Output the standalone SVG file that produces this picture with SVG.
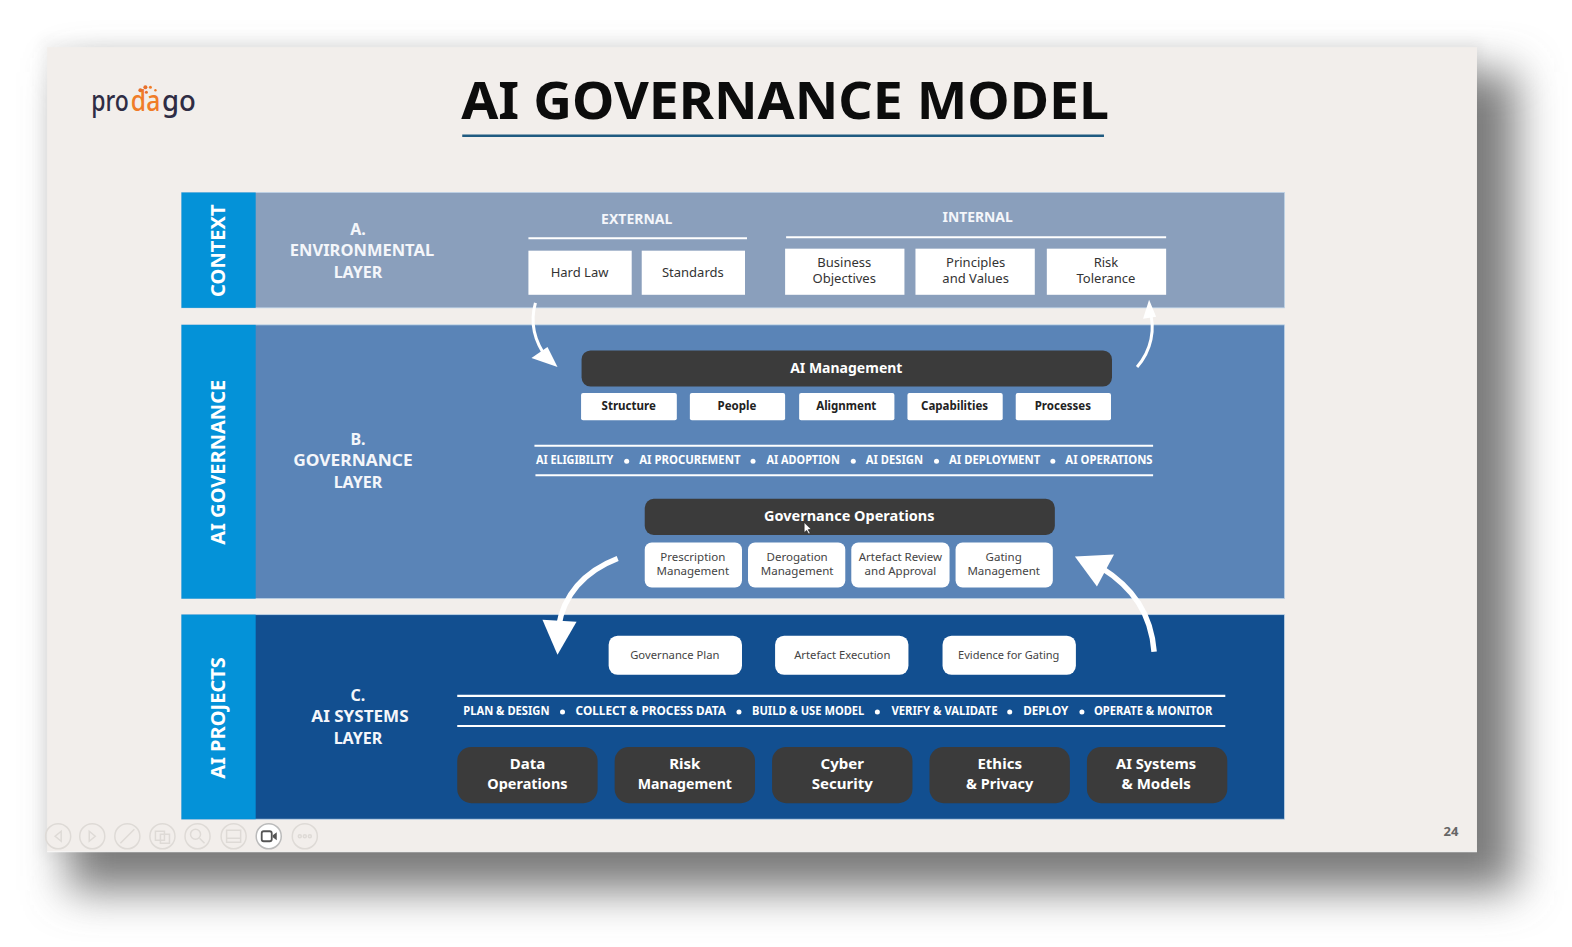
<svg xmlns="http://www.w3.org/2000/svg" width="1572" height="947" viewBox="0 0 1572 947">
<style>
text{font-family:"Noto Sans","Open Sans","Liberation Sans",sans-serif;text-anchor:middle}
.side{fill:#0492d8}
.rim{stroke:#bcd2e6;stroke-width:.8}
.tag{fill:#fff;font-size:20px;font-weight:700}
.layer{fill:#f4f6fa;font-size:16px;font-weight:700}
.box{fill:#fff}
.t1{fill:#333;font-size:13px}
.t1b{fill:#222;font-size:11.5px;font-weight:700}
.t2{fill:#444;font-size:11.5px}
.dark{fill:#3b3b3b}
.dt{fill:#fff;font-size:14.5px;font-weight:700}
.dt2{fill:#fff;font-size:15px;font-weight:700}
.band{fill:#fff;font-size:11.5px;font-weight:700}
.hd{fill:#f4f6fa;font-size:13.5px;font-weight:700}
.rule{stroke:#fff;stroke-width:2;fill:none}
.dot{fill:#fff}
.arc{stroke:#fff;fill:none;stroke-linecap:butt}
.head{fill:#fff}
.ic{fill:none;stroke:#dedad6;stroke-width:1.5}
.logo{font-size:28px;font-weight:500;text-anchor:start}
</style>
<defs>
<filter id="sh" x="-10%" y="-15%" width="120%" height="130%"><feGaussianBlur stdDeviation="22"/></filter>
<filter id="sh2" x="-10%" y="-10%" width="120%" height="125%"><feGaussianBlur stdDeviation="7"/></filter>
</defs>
<rect width="1572" height="947" fill="#fff"/>
<g transform="scale(1.0027)">
<rect x="42" y="40" width="1436" height="815" fill="#000" opacity=".05" filter="url(#sh2)"/>
<rect x="68" y="72" width="1444" height="816" fill="#7a7a7a" filter="url(#sh)"/>
<rect id="slide" x="47" y="47" width="1426" height="802.500" fill="#f2eeeb"/>
<line x1="47" y1="849.500" x2="1473" y2="849.500" stroke="#fff" stroke-width=".8"/>
<g id="logo">
<text class="logo" transform="translate(91,111) scale(.82,1)" fill="#2f2c44">pro</text>
<text class="logo" transform="translate(130.500,111) scale(.88,1)" fill="#f07c28">da</text>
<text class="logo" transform="translate(161.500,111) scale(.98,1)" fill="#2f2c44">go</text>
<circle cx="140" cy="90" r="2" fill="#e8702a"/><circle cx="145" cy="87" r="2" fill="#e8702a"/><circle cx="150" cy="87" r="1.500" fill="#f07c28"/><circle cx="155" cy="90" r="1.200" fill="#f07c28"/><circle cx="146" cy="92" r="1.500" fill="#e8702a"/>
</g>
<g id="title">
<text x="783" y="119" font-size="52" font-weight="700" fill="#0c0c0c" textLength="646" lengthAdjust="spacingAndGlyphs">AI GOVERNANCE MODEL</text>
<line x1="461" y1="135.500" x2="1101" y2="135.500" stroke="#1f5a80" stroke-width="2.500"/>
</g>
<g id="layer-a">
<rect class="rim" x="181" y="192" width="1100" height="115" fill="#8a9fbc"/>
<rect class="side" x="181" y="192" width="74" height="115"/>
<text class="tag" transform="translate(224.500,250) rotate(-90)">CONTEXT</text>
<text class="layer" x="357" y="234">A.</text>
<text class="layer" x="361" y="255" textLength="144" lengthAdjust="spacingAndGlyphs">ENVIRONMENTAL</text>
<text class="layer" x="357" y="277">LAYER</text>
<text class="hd" x="635" y="223" textLength="71" lengthAdjust="spacingAndGlyphs">EXTERNAL</text>
<text class="hd" x="975" y="221" textLength="70" lengthAdjust="spacingAndGlyphs">INTERNAL</text>
<line class="rule" x1="527" y1="237.500" x2="745" y2="237.500"/>
<line class="rule" x1="784" y1="236.500" x2="1163" y2="236.500"/>
</g>
<g id="hard-law"><rect class="box" x="527" y="250" width="103" height="44"/><text class="t1" x="578" y="276.500">Hard Law</text></g>
<g id="standards"><rect class="box" x="640" y="250" width="103" height="44"/><text class="t1" x="691" y="276.500">Standards</text></g>
<g id="business-objectives"><rect class="box" x="783" y="248" width="119" height="46"/><text class="t1" x="842" y="266.500">Business</text><text class="t1" x="842" y="282.500">Objectives</text></g>
<g id="principles"><rect class="box" x="913" y="248" width="119" height="46"/><text class="t1" x="973" y="266.500">Principles</text><text class="t1" x="973" y="282.500">and Values</text></g>
<g id="risk-tolerance"><rect class="box" x="1044" y="248" width="119" height="46"/><text class="t1" x="1103" y="266.500">Risk</text><text class="t1" x="1103" y="282.500">Tolerance</text></g>
<g id="layer-b">
<rect class="rim" x="181" y="324" width="1100" height="273" fill="#5a84b7"/>
<rect class="side" x="181" y="324" width="74" height="273"/>
<text class="tag" transform="translate(224.500,461) rotate(-90)">AI GOVERNANCE</text>
<text class="layer" x="357" y="444">B.</text>
<text class="layer" x="352" y="465" textLength="119" lengthAdjust="spacingAndGlyphs">GOVERNANCE</text>
<text class="layer" x="357" y="487">LAYER</text>
<line class="rule" x1="533" y1="444.500" x2="1150" y2="444.500"/>
<line class="rule" x1="534" y1="474" x2="1150" y2="474"/>
<text class="band" x="573" y="463" textLength="77" lengthAdjust="spacingAndGlyphs">AI ELIGIBILITY</text>
<text class="band" x="688" y="463" textLength="101" lengthAdjust="spacingAndGlyphs">AI PROCUREMENT</text>
<text class="band" x="801" y="463" textLength="73" lengthAdjust="spacingAndGlyphs">AI ADOPTION</text>
<text class="band" x="892" y="463" textLength="57" lengthAdjust="spacingAndGlyphs">AI DESIGN</text>
<text class="band" x="992" y="463" textLength="91" lengthAdjust="spacingAndGlyphs">AI DEPLOYMENT</text>
<text class="band" x="1106" y="463" textLength="87" lengthAdjust="spacingAndGlyphs">AI OPERATIONS</text>
<circle class="dot" cx="625" cy="460" r="2.500"/><circle class="dot" cx="751" cy="460" r="2.500"/><circle class="dot" cx="851" cy="460" r="2.500"/><circle class="dot" cx="934" cy="460" r="2.500"/><circle class="dot" cx="1050" cy="460" r="2.500"/>
</g>
<g id="ai-management"><rect class="dark" x="580" y="349.500" width="529" height="36" rx="9"/><text class="dt" x="844" y="372" textLength="112" lengthAdjust="spacingAndGlyphs">AI Management</text></g>
<g id="structure"><rect class="box" x="579.500" y="392" width="95.500" height="27" rx="2"/><text class="t1b" x="627" y="409">Structure</text></g>
<g id="people"><rect class="box" x="688" y="392" width="95" height="27" rx="2"/><text class="t1b" x="735" y="409">People</text></g>
<g id="alignment"><rect class="box" x="797" y="392" width="95" height="27" rx="2"/><text class="t1b" x="844" y="409">Alignment</text></g>
<g id="capabilities"><rect class="box" x="905" y="392" width="95" height="27" rx="2"/><text class="t1b" x="952" y="409">Capabilities</text></g>
<g id="processes"><rect class="box" x="1013" y="392" width="95" height="27" rx="2"/><text class="t1b" x="1060" y="409">Processes</text></g>
<g id="governance-operations"><rect class="dark" x="643" y="497.500" width="409" height="36" rx="9"/><text class="dt" x="847" y="520" textLength="170" lengthAdjust="spacingAndGlyphs">Governance Operations</text></g>
<g id="prescription"><rect class="box" x="643" y="541" width="97" height="45" rx="7"/><text class="t2" x="691" y="559.500">Prescription</text><text class="t2" x="691" y="573.500">Management</text></g>
<g id="derogation"><rect class="box" x="746" y="541" width="97" height="45" rx="7"/><text class="t2" x="795" y="559.500">Derogation</text><text class="t2" x="795" y="573.500">Management</text></g>
<g id="artefact-review"><rect class="box" x="849" y="541" width="98" height="45" rx="7"/><text class="t2" x="898" y="559.500">Artefact Review</text><text class="t2" x="898" y="573.500">and Approval</text></g>
<g id="gating"><rect class="box" x="953" y="541" width="97" height="45" rx="7"/><text class="t2" x="1001" y="559.500">Gating</text><text class="t2" x="1001" y="573.500">Management</text></g>
<path id="cursor" d="M802 521l0 10 2.500-2 2 3.500 1.500-.8-2-3.500 3-.3z" fill="#fff" stroke="#222" stroke-width=".6"/>
<g id="layer-c">
<rect class="rim" x="181" y="613" width="1100" height="204" fill="#124f90"/>
<rect class="side" x="181" y="613" width="74" height="204"/>
<text class="tag" transform="translate(224.500,716) rotate(-90)">AI PROJECTS</text>
<text class="layer" x="357" y="699">C.</text>
<text class="layer" x="359" y="720" textLength="97" lengthAdjust="spacingAndGlyphs">AI SYSTEMS</text>
<text class="layer" x="357" y="742">LAYER</text>
<line class="rule" x1="456" y1="694" x2="1222" y2="694"/>
<line class="rule" x1="456" y1="724" x2="1222" y2="724"/>
<text class="band" x="505" y="713" textLength="86" lengthAdjust="spacingAndGlyphs">PLAN &amp; DESIGN</text>
<text class="band" x="649" y="713" textLength="150" lengthAdjust="spacingAndGlyphs">COLLECT &amp; PROCESS DATA</text>
<text class="band" x="806" y="713" textLength="112" lengthAdjust="spacingAndGlyphs">BUILD &amp; USE MODEL</text>
<text class="band" x="942" y="713" textLength="106" lengthAdjust="spacingAndGlyphs">VERIFY &amp; VALIDATE</text>
<text class="band" x="1043" y="713" textLength="45" lengthAdjust="spacingAndGlyphs">DEPLOY</text>
<text class="band" x="1150" y="713" textLength="118" lengthAdjust="spacingAndGlyphs">OPERATE &amp; MONITOR</text>
<circle class="dot" cx="561" cy="710" r="2.500"/><circle class="dot" cx="737" cy="710" r="2.500"/><circle class="dot" cx="875" cy="710" r="2.500"/><circle class="dot" cx="1007" cy="710" r="2.500"/><circle class="dot" cx="1079" cy="710" r="2.500"/>
</g>
<g id="governance-plan"><rect class="box" x="607" y="634" width="133" height="39" rx="9"/><text class="t2" x="673" y="657.500" textLength="89" lengthAdjust="spacingAndGlyphs">Governance Plan</text></g>
<g id="artefact-execution"><rect class="box" x="773" y="634" width="133" height="39" rx="9"/><text class="t2" x="840" y="657.500" textLength="96" lengthAdjust="spacingAndGlyphs">Artefact Execution</text></g>
<g id="evidence"><rect class="box" x="940" y="634" width="133" height="39" rx="9"/><text class="t2" x="1006" y="657.500" textLength="101" lengthAdjust="spacingAndGlyphs">Evidence for Gating</text></g>
<g id="data-operations"><rect class="dark" x="456" y="745" width="140" height="56" rx="14"/><text class="dt2" x="526" y="767">Data</text><text class="dt2" x="526" y="787" textLength="80" lengthAdjust="spacingAndGlyphs">Operations</text></g>
<g id="risk-management"><rect class="dark" x="613" y="745" width="140" height="56" rx="14"/><text class="dt2" x="683" y="767">Risk</text><text class="dt2" x="683" y="787" textLength="94" lengthAdjust="spacingAndGlyphs">Management</text></g>
<g id="cyber-security"><rect class="dark" x="770" y="745" width="140" height="56" rx="14"/><text class="dt2" x="840" y="767">Cyber</text><text class="dt2" x="840" y="787">Security</text></g>
<g id="ethics-privacy"><rect class="dark" x="927" y="745" width="140" height="56" rx="14"/><text class="dt2" x="997" y="767">Ethics</text><text class="dt2" x="997" y="787" textLength="67" lengthAdjust="spacingAndGlyphs">&amp; Privacy</text></g>
<g id="ai-systems-models"><rect class="dark" x="1084" y="745" width="140" height="56" rx="14"/><text class="dt2" x="1153" y="767" textLength="80" lengthAdjust="spacingAndGlyphs">AI Systems</text><text class="dt2" x="1153" y="787">&amp; Models</text></g>
<g id="connectors">
<path class="arc" stroke-width="3" d="M534 302C528 323 534 342 546 358"/>
<path class="head" d="M556 366L530 357 546 346z"/>
<path class="arc" stroke-width="3" d="M1134 366C1148 350 1153 328 1146 308"/>
<path class="head" d="M1146 299L1140 318 1153 316z"/>
<path class="arc" stroke-width="5.500" d="M616 557C582 570 562 594 557 625"/>
<path class="head" d="M556 653L541 618 575 620z"/>
<path class="arc" stroke-width="5.500" d="M1151 650C1148 612 1130 586 1098 566"/>
<path class="head" d="M1072 555L1111 553 1094 585z"/>
</g>
<g id="toolbar">
<circle class="ic" cx="58" cy="834" r="12.500"/><path class="ic" d="M61 829l-6 5 6 5z"/>
<circle class="ic" cx="92" cy="834" r="12.500"/><path class="ic" d="M89 829l6 5-6 5z"/>
<circle class="ic" cx="127" cy="834" r="12.500"/><path class="ic" d="M120 841l14-14" stroke-width="2.500"/>
<circle class="ic" cx="162" cy="834" r="12.500"/><rect class="ic" x="155" y="829" width="9" height="9"/><rect class="ic" x="160" y="832" width="9" height="9"/>
<circle class="ic" cx="197" cy="834" r="12.500"/><circle class="ic" cx="195" cy="832" r="5"/><path class="ic" d="M199 836l5 5"/>
<circle class="ic" cx="233" cy="834" r="12.500"/><rect class="ic" x="226" y="828" width="14" height="12"/><path class="ic" d="M226 836h14"/>
<circle cx="268" cy="834" r="12.500" fill="#fff" stroke="#bbb" stroke-width="1.500"/><rect x="261" y="829" width="10" height="10" rx="2" fill="none" stroke="#555" stroke-width="1.800"/><path d="M272 833l4-3v8l-4-3z" fill="#555"/>
<circle class="ic" cx="304" cy="834" r="12.500"/><circle class="ic" cx="299" cy="834" r="1.500"/><circle class="ic" cx="304" cy="834" r="1.500"/><circle class="ic" cx="309" cy="834" r="1.500"/>
</g>
<text id="page" x="1447" y="834" font-size="13" font-weight="700" fill="#666">24</text>
</g>
</svg>
